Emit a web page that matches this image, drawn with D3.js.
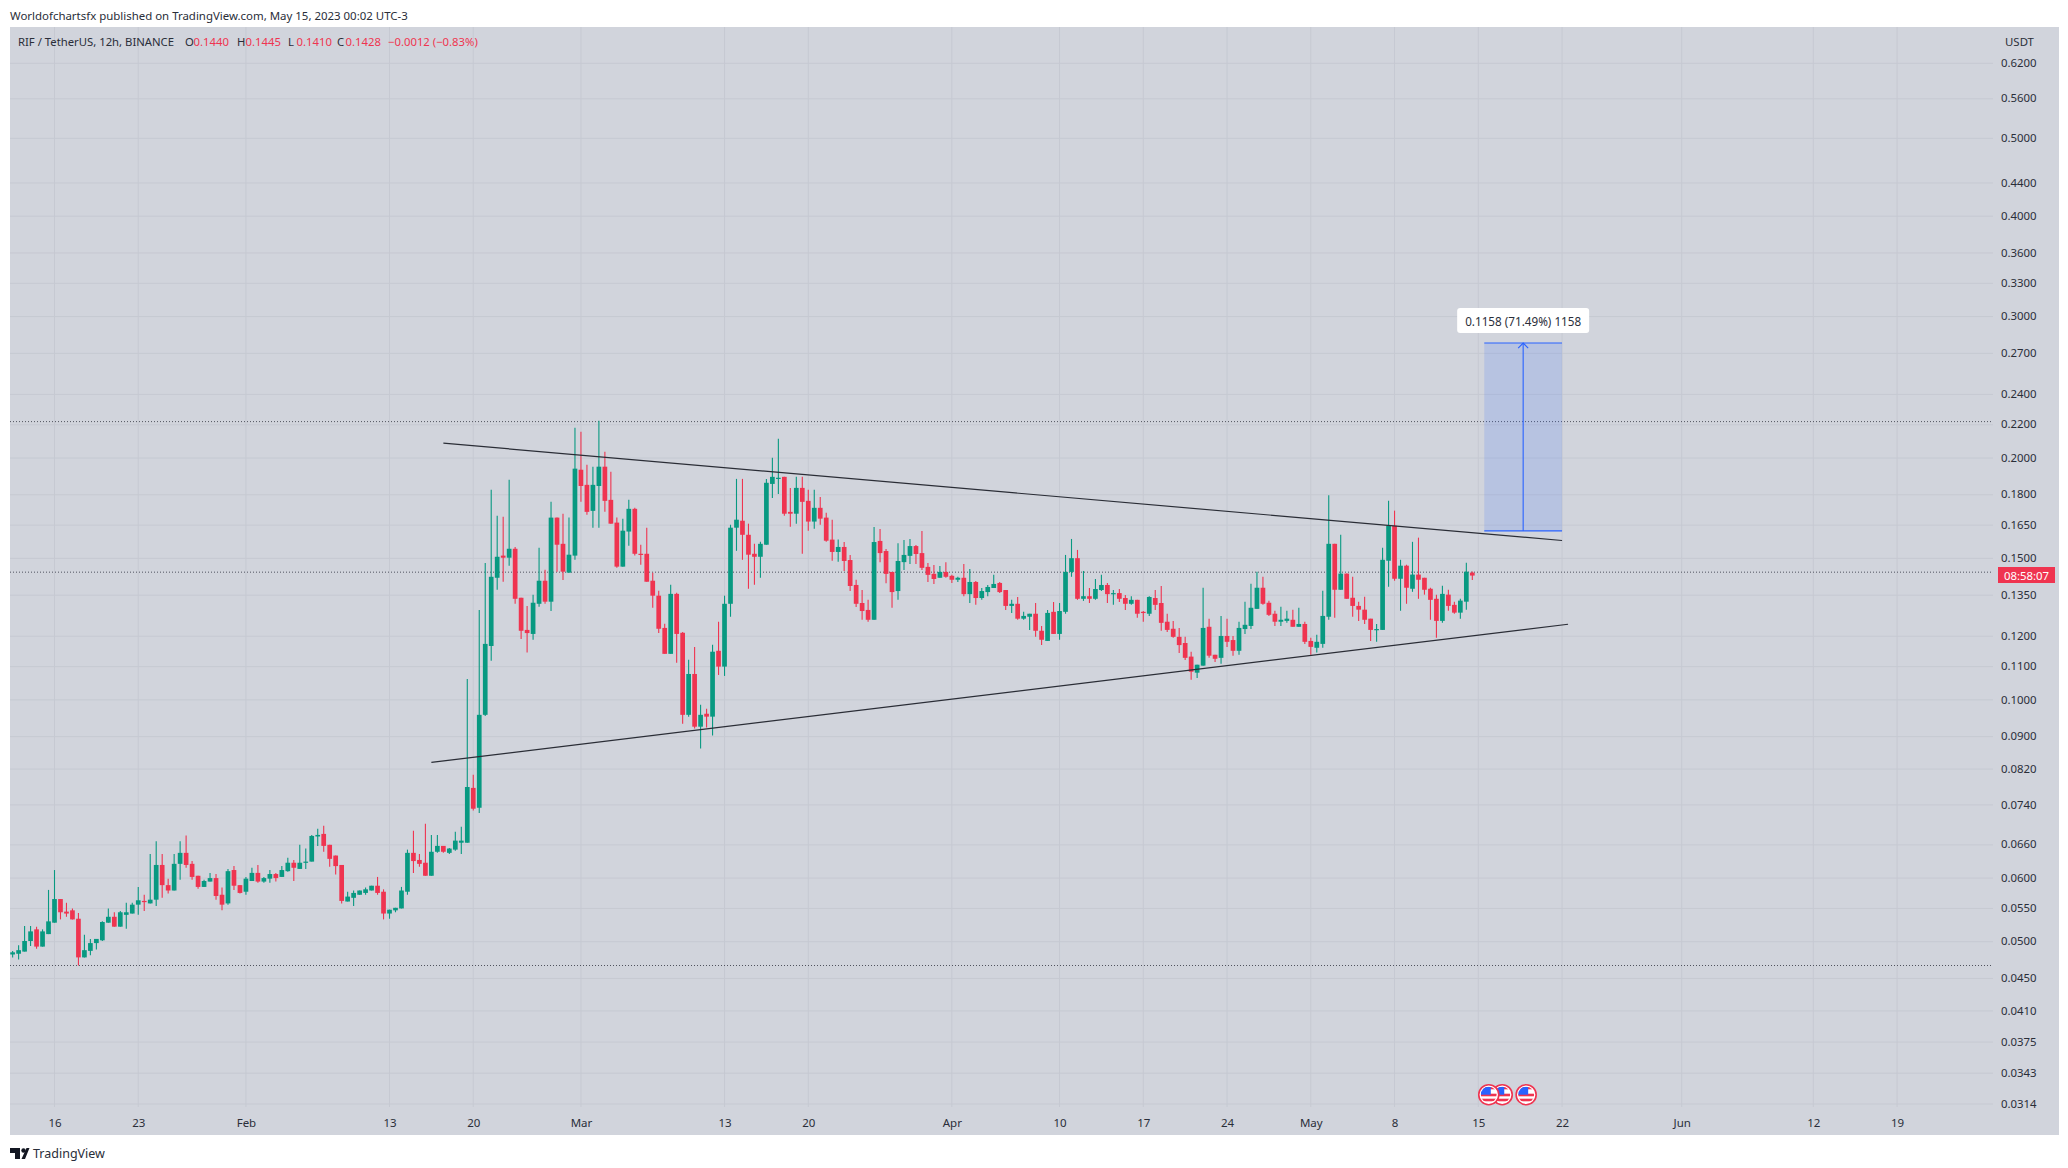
<!DOCTYPE html>
<html><head><meta charset="utf-8">
<script src="https://cdn.jsdelivr.net/npm/d3@7"></script>
<style>
html,body{margin:0;padding:0;background:#fff}
svg{display:block}
text{font-family:"Noto Sans","Open Sans",sans-serif}
</style></head><body>
<svg id="c" width="2068" height="1168"></svg>
<script>
const firstCandle = "2023-01-12T12:00:00Z";
const opens = [
.0482,.0483,.0486,.0501,.0518,.0493,.0511,.0528,.0565,.0545,
.0547,.0534,.0478,.0487,.0498,.0502,.0528,.0537,.0522,.0540,
.0542,.0556,.0562,.0558,.0564,.0623,.0588,.0579,.0625,.0645,
.0625,.0604,.0585,.0594,.0600,.0572,.0558,.0614,.0588,.0577,
.0595,.0609,.0594,.0599,.0607,.0602,.0612,.0627,.0616,.0627,
.0629,.0676,.0681,.0660,.0640,.0623,.0561,.0567,.0572,.0575,
.0579,.0587,.0577,.0542,.0547,.0550,.0577,.0645,.0632,.0627,
.0604,.0647,.0658,.0645,.0651,.0664,.0664,.0777,.0734,.0958,
.1167,.1419,.1512,.1503,.1542,.1340,.1222,.1208,.1317,.1407,
.1325,.1686,.1564,.1440,.1512,.1934,.1852,.1719,.1846,.1951,
.1774,.1662,.1465,.1620,.1729,.1520,.1520,.1407,.1348,.1229,
.1141,.1355,.1212,.0958,.1077,.0926,.0961,.0953,.1151,.1100,
.1317,.1638,.1671,.1605,.1520,.1507,.1560,.1857,.1886,.1895,
.1714,.1705,.1836,.1769,.1667,.1734,.1686,.1583,.1528,.1550,
.1493,.1390,.1320,.1294,.1258,.1577,.1532,.1443,.1366,.1484,
.1511,.1554,.1523,.1464,.1435,.1419,.1443,.1427,.1411,.1419,
.1354,.1402,.1339,.1362,.1378,.1398,.1370,.1309,.1317,.1262,
.1269,.1280,.1219,.1184,.1287,.1208,.1287,.1443,.1501,.1336,
.1346,.1336,.1370,.1390,.1354,.1358,.1339,.1317,.1332,.1287,
.1280,.1339,.1320,.1251,.1226,.1198,.1177,.1132,.1081,.1103,
.1233,.1138,.1128,.1201,.1187,.1151,.1225,.1236,.1298,.1379,
.1321,.1280,.1251,.1254,.1258,.1233,.1243,.1184,.1161,.1174,
.1269,.1564,.1371,.1436,.1340,.1309,.1295,.1262,.1222,.1222,
.1490,.1647,.1415,.1469,.1375,.1432,.1419,.1375,.1336,.1254,
.1352,.1313,.1284,.1325,.1440];
const highs = [
.0487,.0495,.0523,.0523,.0522,.0518,.0580,.0614,.0565,.0559,
.0550,.0543,.0510,.0504,.0504,.0530,.0550,.0544,.0546,.0559,
.0559,.0585,.0572,.0643,.0667,.0643,.0599,.0643,.0667,.0678,
.0630,.0604,.0597,.0609,.0607,.0584,.0616,.0621,.0588,.0602,
.0618,.0623,.0602,.0614,.0609,.0621,.0636,.0632,.0660,.0653,
.0679,.0691,.0697,.0660,.0640,.0623,.0577,.0579,.0579,.0584,
.0587,.0602,.0581,.0548,.0551,.0585,.0651,.0687,.0643,.0701,
.0679,.0679,.0658,.0654,.0685,.0695,.1062,.0807,.1294,.1480,
.1826,.1695,.1690,.1879,.1550,.1340,.1309,.1352,.1546,.1452,
.1764,.1686,.1705,.1686,.2181,.2156,.1962,.1951,.2225,.2036,
.1923,.1686,.1681,.1774,.1734,.1560,.1638,.1440,.1367,.1244,
.1391,.1359,.1215,.1122,.1164,.0986,.0975,.1171,.1251,.1348,
.1652,.1884,.1884,.1657,.1564,.1573,.1884,.2002,.2114,.1895,
.1836,.1895,.1895,.1826,.1826,.1788,.1710,.1676,.1583,.1572,
.1515,.1411,.1370,.1332,.1641,.1632,.1541,.1443,.1567,.1581,
.1586,.1559,.1623,.1480,.1472,.1468,.1484,.1431,.1423,.1476,
.1455,.1406,.1378,.1390,.1431,.1402,.1370,.1332,.1343,.1287,
.1280,.1320,.1236,.1294,.1324,.1320,.1515,.1586,.1537,.1447,
.1378,.1414,.1431,.1398,.1370,.1374,.1351,.1346,.1332,.1290,
.1346,.1370,.1386,.1280,.1254,.1229,.1198,.1148,.1106,.1379,
.1262,.1138,.1272,.1262,.1201,.1251,.1325,.1395,.1444,.1423,
.1329,.1291,.1306,.1291,.1295,.1302,.1251,.1195,.1205,.1367,
.1798,.1564,.1605,.1436,.1423,.1325,.1344,.1262,.1243,.1546,
.1769,.1720,.1494,.1473,.1573,.1592,.1419,.1379,.1352,.1387,
.1371,.1325,.1336,.1481,.1445];
const lows = [
.0478,.0475,.0486,.0494,.0490,.0493,.0511,.0528,.0533,.0537,
.0533,.0467,.0478,.0481,.0489,.0501,.0528,.0522,.0522,.0519,
.0542,.0540,.0546,.0558,.0554,.0567,.0574,.0579,.0597,.0618,
.0597,.0582,.0585,.0594,.0564,.0547,.0556,.0580,.0574,.0572,
.0595,.0592,.0592,.0592,.0594,.0602,.0611,.0595,.0616,.0616,
.0629,.0658,.0647,.0620,.0606,.0558,.0561,.0554,.0572,.0572,
.0579,.0572,.0533,.0534,.0544,.0550,.0572,.0609,.0620,.0604,
.0604,.0645,.0645,.0643,.0649,.0643,.0664,.0728,.0723,.0955,
.1119,.1371,.1403,.1469,.1317,.1191,.1145,.1188,.1306,.1317,
.1290,.1444,.1410,.1440,.1494,.1764,.1700,.1638,.1638,.1714,
.1657,.1460,.1465,.1555,.1512,.1473,.1403,.1302,.1211,.1141,
.1141,.1112,.0934,.0953,.0921,.0870,.0924,.0903,.1074,.1071,
.1269,.1533,.1494,.1375,.1391,.1419,.1560,.1784,.1804,.1695,
.1642,.1657,.1520,.1624,.1633,.1652,.1573,.1490,.1486,.1447,
.1366,.1305,.1258,.1251,.1258,.1484,.1397,.1302,.1332,.1451,
.1476,.1476,.1451,.1402,.1394,.1419,.1419,.1398,.1402,.1346,
.1320,.1313,.1332,.1346,.1378,.1358,.1294,.1283,.1258,.1258,
.1222,.1198,.1170,.1184,.1208,.1188,.1280,.1423,.1332,.1328,
.1320,.1332,.1366,.1320,.1313,.1324,.1294,.1313,.1265,.1251,
.1272,.1294,.1219,.1215,.1195,.1144,.1121,.1059,.1065,.1103,
.1128,.1115,.1109,.1164,.1135,.1138,.1208,.1225,.1298,.1313,
.1272,.1236,.1236,.1247,.1233,.1233,.1174,.1138,.1145,.1161,
.1258,.1265,.1371,.1336,.1269,.1254,.1243,.1184,.1181,.1222,
.1383,.1407,.1291,.1317,.1363,.1336,.1352,.1258,.1195,.1247,
.1291,.1280,.1262,.1295,.1410];
const closes = [
.0485,.0488,.0501,.0515,.0493,.0515,.0530,.0565,.0544,.0542,
.0533,.0478,.0488,.0498,.0504,.0529,.0537,.0522,.0544,.0544,
.0556,.0563,.0560,.0564,.0623,.0588,.0579,.0625,.0645,.0623,
.0602,.0585,.0595,.0600,.0570,.0556,.0612,.0587,.0575,.0599,
.0609,.0594,.0600,.0607,.0600,.0614,.0627,.0618,.0627,.0629,
.0677,.0679,.0658,.0634,.0621,.0562,.0569,.0575,.0579,.0581,
.0587,.0575,.0542,.0548,.0551,.0579,.0645,.0630,.0625,.0604,
.0647,.0658,.0647,.0653,.0668,.0668,.0779,.0732,.0958,.1174,
.1423,.1507,.1503,.1542,.1336,.1219,.1211,.1321,.1407,.1325,
.1686,.1560,.1444,.1516,.1940,.1846,.1714,.1852,.1951,.1769,
.1657,.1465,.1624,.1729,.1520,.1516,.1403,.1348,.1226,.1141,
.1355,.1208,.0958,.1077,.0926,.0958,.0953,.1148,.1100,.1317,
.1638,.1676,.1605,.1516,.1507,.1564,.1863,.1895,.1890,.1705,
.1705,.1836,.1764,.1667,.1734,.1681,.1578,.1528,.1550,.1489,
.1386,.1317,.1290,.1258,.1572,.1523,.1435,.1362,.1489,.1515,
.1554,.1519,.1460,.1431,.1414,.1443,.1423,.1411,.1419,.1354,
.1402,.1339,.1366,.1382,.1394,.1362,.1309,.1317,.1262,.1272,
.1280,.1219,.1188,.1283,.1208,.1290,.1443,.1501,.1336,.1346,
.1336,.1374,.1390,.1354,.1358,.1336,.1317,.1332,.1280,.1283,
.1343,.1313,.1247,.1222,.1198,.1170,.1128,.1084,.1106,.1229,
.1135,.1125,.1201,.1181,.1151,.1229,.1240,.1302,.1379,.1317,
.1276,.1251,.1258,.1262,.1233,.1243,.1181,.1164,.1181,.1272,
.1564,.1371,.1436,.1336,.1309,.1295,.1258,.1222,.1225,.1494,
.1647,.1415,.1469,.1379,.1432,.1411,.1371,.1332,.1254,.1355,
.1309,.1284,.1329,.1444,.1428];

const priceTicks = [0.62,0.56,0.5,0.44,0.4,0.36,0.33,0.3,0.27,0.24,0.22,0.2,0.18,0.165,0.15,0.135,0.12,0.11,0.1,0.09,0.082,0.074,0.066,0.06,0.055,0.05,0.045,0.041,0.0375,0.0343,0.0314];
const dateTicks = ["2023-01-16","2023-01-23","2023-02-01","2023-02-13","2023-02-20","2023-03-01","2023-03-13","2023-03-20","2023-04-01","2023-04-10","2023-04-17","2023-04-24","2023-05-01","2023-05-08","2023-05-15","2023-05-22","2023-06-01","2023-06-12","2023-06-19"];
const dateLabels = ["16","23","Feb","13","20","Mar","13","20","Apr","10","17","24","May","8","15","22","Jun","12","19"];
const levelPrices = [0.2220,0.1442,0.0467];
const upperTrendDates = ["2023-02-17T12:00:00Z","2023-05-22T00:00:00Z"];
const upperTrendPrices = [0.2087,0.1579];
const lowerTrendDates = ["2023-02-16T12:00:00Z","2023-05-22T12:00:00Z"];
const lowerTrendPrices = [0.0836,0.1242];
const measureDates = ["2023-05-15T12:00:00Z","2023-05-22T00:00:00Z"];
const measurePrices = [0.1623,0.2781];
const eventDates = ["2023-05-19T00:00:00Z","2023-05-17T00:00:00Z","2023-05-15T21:00:00Z"];
const headerText = "Worldofchartsfx published on TradingView.com, May 15, 2023 00:02 UTC-3";
const legendTitle = "RIF / TetherUS, 12h, BINANCE";
const legendLetters = ["O","H","L","C"];
const legendValues = ["0.1440","0.1445","0.1410","0.1428"];
const legendChange = "\u22120.0012 (\u22120.83%)";
const measureLabel = "0.1158 (71.49%) 1158";
const countdownLabel = "08:58:07";
const currency = "USDT";

const UP="#089981", DOWN="#EF3450", BG="#D1D4DC", GRID="#C6C9D2", TXT="#2a2e39", BLUE="#2962FF";
const PANEL={l:10,r:2059,t:27,b:1135}, PLOT_R=1993, GRID_B=1107;

const svg=d3.select("#c");
const x=d3.scaleUtc().domain([new Date("2023-01-16"),new Date("2023-05-15")]).range([54.5,1478.3]);
const y=d3.scaleLog().domain([0.0314,0.62]).range([1104,63.3]);
const bodyW=4.7;

svg.append("rect").attr("x",PANEL.l).attr("y",PANEL.t).attr("width",PANEL.r-PANEL.l).attr("height",PANEL.b-PANEL.t).attr("fill",BG);
svg.append("defs").append("clipPath").attr("id","plot").append("rect").attr("x",PANEL.l).attr("y",PANEL.t).attr("width",PLOT_R-PANEL.l).attr("height",GRID_B-PANEL.t);

// grid
const tickDates=dateTicks.map(d=>new Date(d));
const grid=svg.append("g");
grid.selectAll("line.v").data(tickDates).join("line").attr("class","v").attr("x1",d=>x(d)).attr("x2",d=>x(d)).attr("y1",PANEL.t).attr("y2",GRID_B).attr("stroke",GRID);
grid.selectAll("line.h").data(priceTicks).join("line").attr("class","h").attr("x1",PANEL.l).attr("x2",PLOT_R).attr("y1",d=>y(d)).attr("y2",d=>y(d)).attr("stroke",GRID);

// level lines
svg.append("g").selectAll("line").data(levelPrices).join("line").attr("x1",PANEL.l).attr("x2",PLOT_R).attr("y1",d=>y(d)).attr("y2",d=>y(d)).attr("stroke","#50535e").attr("stroke-dasharray","1 2");

// candles
const t0=new Date(firstCandle);
const idx=d3.range(opens.length);
const tAt=i=>d3.utcHour.offset(t0,i*12);
const g=svg.append("g").attr("clip-path","url(#plot)");
const col=i=>closes[i]>=opens[i]?UP:DOWN;
g.selectAll("line.w").data(idx).join("line").attr("class","w").attr("x1",i=>x(tAt(i))).attr("x2",i=>x(tAt(i))).attr("y1",i=>y(highs[i])).attr("y2",i=>y(lows[i])).attr("stroke",col).attr("stroke-width",1.1);
g.selectAll("rect.b").data(idx).join("rect").attr("class","b").attr("x",i=>x(tAt(i))-bodyW/2).attr("width",bodyW).attr("y",i=>y(Math.max(opens[i],closes[i]))).attr("height",i=>Math.max(1.2,Math.abs(y(opens[i])-y(closes[i])))).attr("fill",col);

// measure tool
const mx0=x(new Date(measureDates[0])), mx1=x(new Date(measureDates[1]));
const my0=y(measurePrices[0]), my1=y(measurePrices[1]), mxc=(mx0+mx1)/2;
const m=svg.append("g");
m.append("rect").attr("x",mx0).attr("y",my1).attr("width",mx1-mx0).attr("height",my0-my1).attr("fill",BLUE).attr("fill-opacity",0.15);
[my0,my1].forEach(v=>m.append("line").attr("x1",mx0).attr("x2",mx1).attr("y1",v).attr("y2",v).attr("stroke",BLUE).attr("stroke-width",1.1));
m.append("line").attr("x1",mxc).attr("x2",mxc).attr("y1",my0).attr("y2",my1).attr("stroke",BLUE).attr("stroke-width",1.1);
m.append("path").attr("d",d3.line()([[mxc-5,my1+5],[mxc,my1],[mxc+5,my1+5]])).attr("fill","none").attr("stroke",BLUE).attr("stroke-width",1.1);

// trend lines
const trend=d3.line().x(d=>x(new Date(d[0]))).y(d=>y(d[1]));
[[upperTrendDates,upperTrendPrices],[lowerTrendDates,lowerTrendPrices]].forEach(([ds,ps])=>{
  svg.append("path").attr("d",trend(d3.zip(ds,ps))).attr("fill","none").attr("stroke","#2a2d36").attr("stroke-width",1.2);
});

// measure label
const lb=svg.append("g");
lb.append("rect").attr("x",mxc-66).attr("y",my1-35).attr("width",132).attr("height",25).attr("rx",3).attr("fill","#fff");
lb.append("text").attr("x",mxc).attr("y",my1-22.5).attr("text-anchor","middle").attr("dominant-baseline","central").attr("font-size",11.7).attr("fill",TXT).text(measureLabel);

// axes
const yAxis=d3.axisRight(y).tickValues(priceTicks).tickFormat(d3.format(".4f")).tickSize(0).tickPadding(0);
const ya=svg.append("g").attr("transform","translate(2001,-0.5)").call(yAxis);
ya.select(".domain").remove();
ya.selectAll("text").attr("font-size",11.4).attr("fill",TXT).style("font-family",'"Noto Sans"');
const xAxis=d3.axisBottom(x).tickValues(tickDates).tickFormat((d,i)=>dateLabels[i]).tickSize(0).tickPadding(0);
const xa=svg.append("g").attr("transform","translate(0,1118.5)").call(xAxis);
xa.select(".domain").remove();
xa.selectAll("text").attr("font-size",11.5).attr("fill",TXT).style("font-family",'"Noto Sans"');

svg.append("text").attr("x",2019.5).attr("y",41).attr("text-anchor","middle").attr("dominant-baseline","central").attr("font-size",11.4).attr("fill",TXT).text(currency);

// countdown
svg.append("rect").attr("x",1998).attr("y",567).attr("width",57).attr("height",16).attr("fill",DOWN);
svg.append("text").attr("x",2026.5).attr("y",575).attr("text-anchor","middle").attr("dominant-baseline","central").attr("font-size",11.4).attr("fill","#fff").text(countdownLabel);

// header + legend
svg.append("text").attr("x",10).attr("y",15).attr("dominant-baseline","central").attr("font-size",11.45).attr("fill",TXT).text(headerText);
const leg=svg.append("g").attr("font-size",11.3);
leg.append("text").attr("x",18).attr("y",41).attr("dominant-baseline","central").attr("fill",TXT).text(legendTitle);
const legX=[185,237,288,337];
legendLetters.forEach((s,i)=>{
  leg.append("text").attr("x",legX[i]).attr("y",41).attr("dominant-baseline","central").attr("fill",TXT).text(s);
  leg.append("text").attr("x",legX[i]+8.5).attr("y",41).attr("dominant-baseline","central").attr("fill",DOWN).text(legendValues[i]);
});
leg.append("text").attr("x",388).attr("y",41).attr("dominant-baseline","central").attr("fill",DOWN).text(legendChange);

// event flags
const flagY=1094.7;
const ev=svg.append("g");
const defs=svg.select("defs");
eventDates.forEach((d,i)=>{
  const cx=x(new Date(d)), id="f"+i;
  defs.append("clipPath").attr("id",id).append("circle").attr("cx",cx).attr("cy",flagY).attr("r",8);
  const f=ev.append("g");
  f.append("circle").attr("cx",cx).attr("cy",flagY).attr("r",10).attr("fill","#fff").attr("stroke",DOWN).attr("stroke-width",1.6);
  const c=f.append("g").attr("clip-path",`url(#${id})`);
  c.append("rect").attr("x",cx-8).attr("y",flagY-1).attr("width",16).attr("height",2.6).attr("fill",DOWN);
  c.append("rect").attr("x",cx-8).attr("y",flagY+4).attr("width",16).attr("height",2.6).attr("fill",DOWN);
  c.append("rect").attr("x",cx-8).attr("y",flagY-8).attr("width",16).attr("height",2.6).attr("fill",DOWN);
  c.append("rect").attr("x",cx-8).attr("y",flagY-8).attr("width",10).attr("height",8).attr("fill",BLUE);
});

// footer logo
const logo=svg.append("g").attr("fill","#131722");
logo.append("path").attr("d","M10 1148h10v11h-5v-6h-5z");
logo.append("circle").attr("cx",23.5).attr("cy",1150.5).attr("r",2.2);
logo.append("path").attr("d","M26.5 1148h3.2l-0.2 0L25 1159h-3.5z");
svg.append("text").attr("x",33).attr("y",1153.5).attr("dominant-baseline","central").attr("font-size",12.5).attr("fill","#2a2e39").text("TradingView");
</script></body></html>
